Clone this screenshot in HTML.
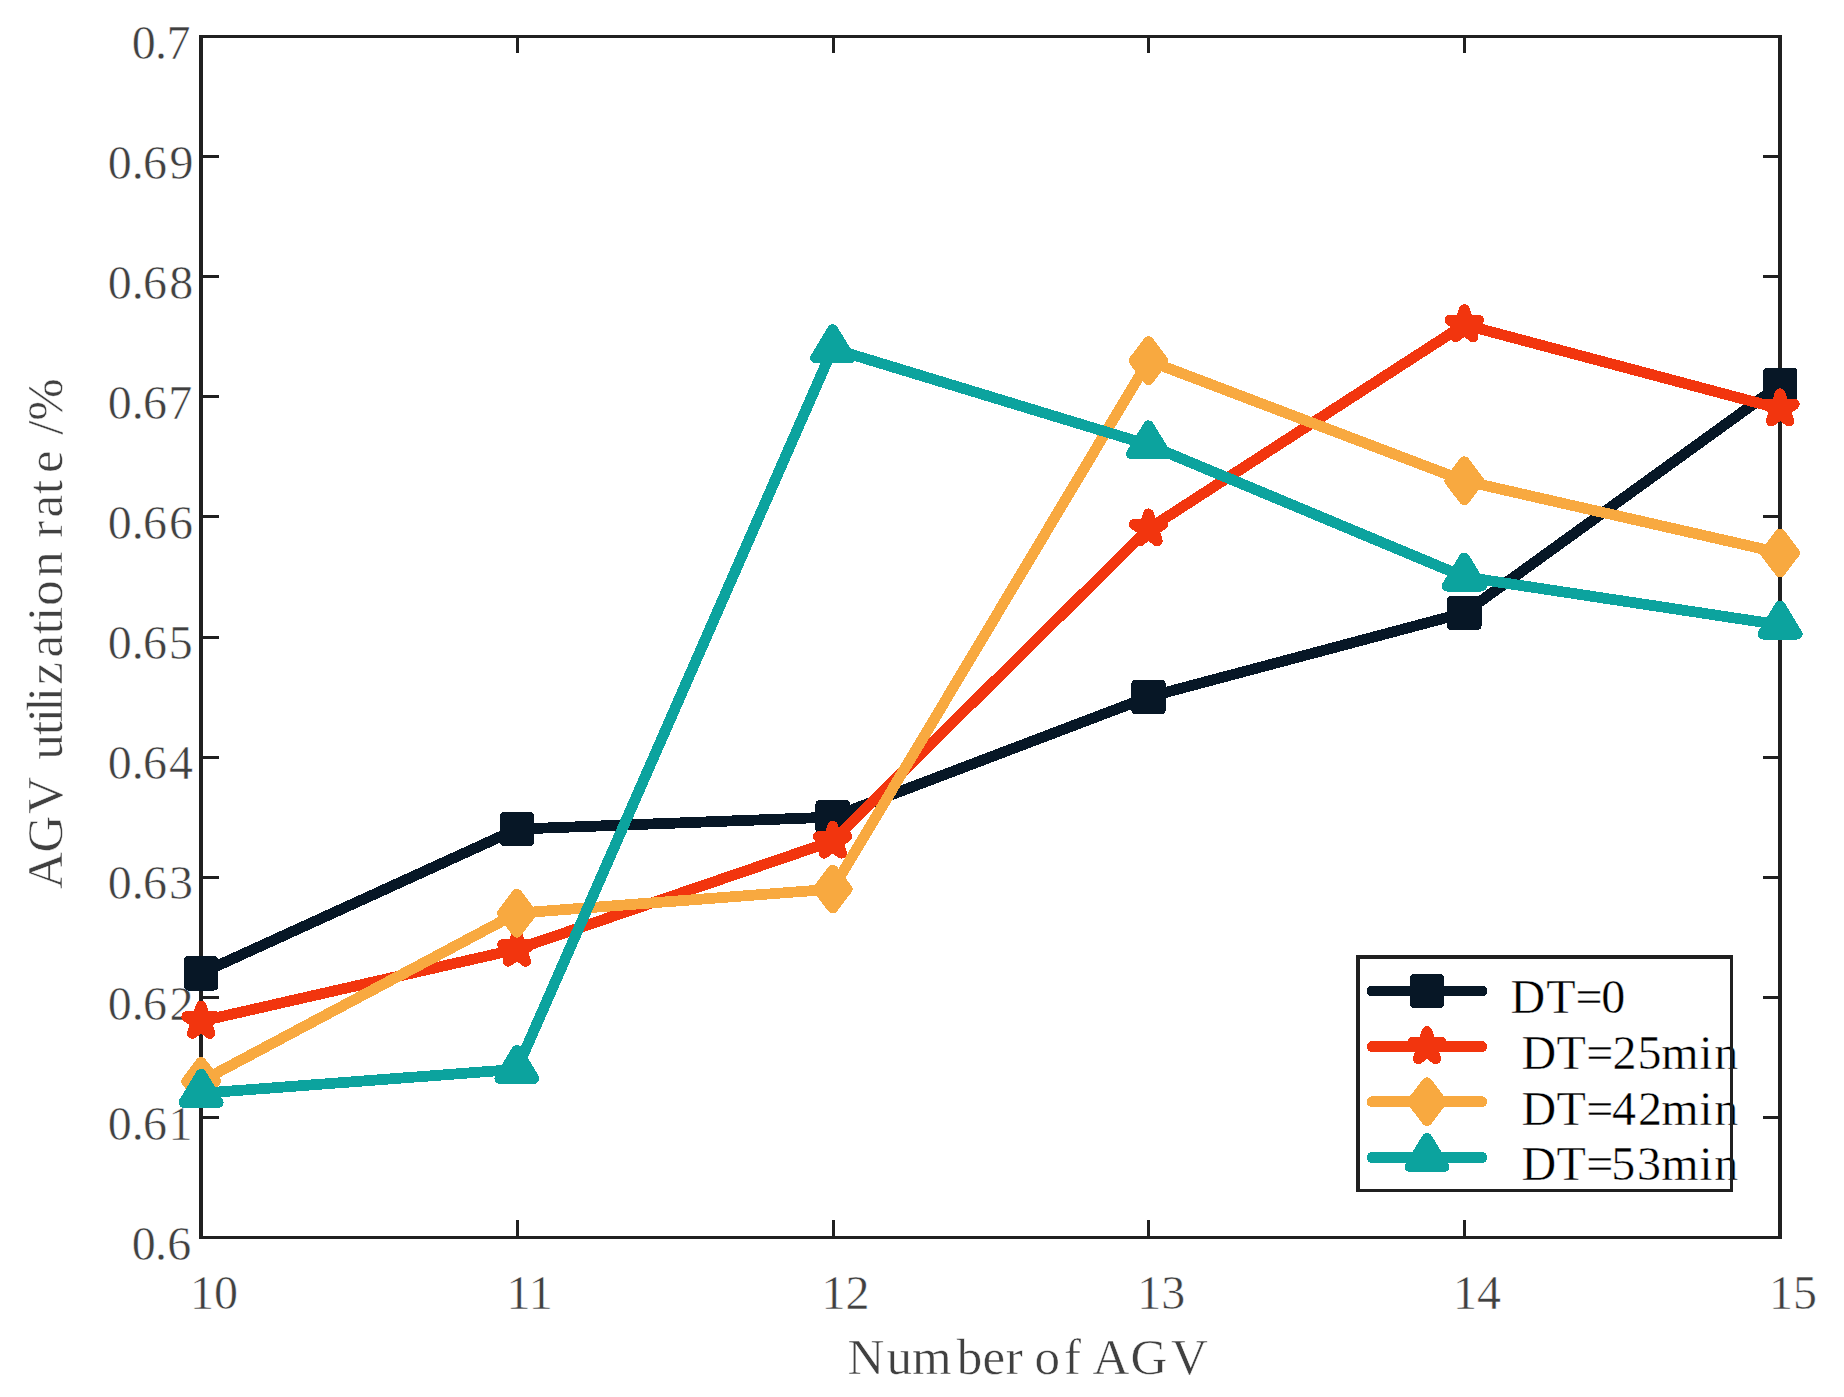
<!DOCTYPE html>
<html lang="en"><head><meta charset="utf-8"><title>AGV utilization rate</title>
<style>
html,body{margin:0;padding:0;background:#fff}
body{width:1844px;height:1397px;overflow:hidden}
svg{display:block}
text{font-family:"Liberation Serif",serif}
.tk{font-size:48px;fill:#404040;stroke:#fff;stroke-width:.5px}
.lb{font-size:51px;fill:#404040;stroke:#fff;stroke-width:.5px}
.lg{font-size:48px;fill:#000;stroke:#fff;stroke-width:.4px}
</style></head><body>
<svg width="1844" height="1397" viewBox="0 0 1844 1397">
<rect x="0" y="0" width="1844" height="1397" fill="#fff"/>
<g shape-rendering="crispEdges">
<path d="M201.1 36.5H218.7M1780.1 36.5H1763.2M201.1 156.6H218.7M1780.1 156.6H1763.2M201.1 276.7H218.7M1780.1 276.7H1763.2M201.1 396.8H218.7M1780.1 396.8H1763.2M201.1 516.9H218.7M1780.1 516.9H1763.2M201.1 637.0H218.7M1780.1 637.0H1763.2M201.1 757.0H218.7M1780.1 757.0H1763.2M201.1 877.1H218.7M1780.1 877.1H1763.2M201.1 997.2H218.7M1780.1 997.2H1763.2M201.1 1117.3H218.7M1780.1 1117.3H1763.2M201.1 1237.4H218.7M1780.1 1237.4H1763.2M201.5 1237.4V1220.4M201.5 36.5V53.0M517.3 1237.4V1220.4M517.3 36.5V53.0M833.1 1237.4V1220.4M833.1 36.5V53.0M1148.9 1237.4V1220.4M1148.9 36.5V53.0M1464.7 1237.4V1220.4M1464.7 36.5V53.0M1780.5 1237.4V1220.4M1780.5 36.5V53.0" stroke="#202020" stroke-width="3" fill="none"/>
<rect x="201.1" y="36.5" width="1579.0" height="1200.9" fill="none" stroke="#202020" stroke-width="3.6"/>
</g>
<g class="tk">
<text x="131.8 155 166.6" y="58.8">0.7</text>
<text x="107.7 131.8 143.1 169.4" y="178.9">0.69</text>
<text x="107.7 131.8 143.1 169.2" y="299.0">0.68</text>
<text x="107.7 131.8 143.1 168.3" y="419.1">0.67</text>
<text x="107.7 131.8 143.1 168.9" y="539.2">0.66</text>
<text x="107.7 131.8 143.1 168.7" y="659.2">0.65</text>
<text x="107.7 131.8 143.1 169.1" y="779.3">0.64</text>
<text x="107.7 131.8 143.1 169.0" y="899.4">0.63</text>
<text x="107.7 131.8 143.1 169.5" y="1019.5">0.62</text>
<text x="107.7 131.8 143.1 168.5" y="1139.6">0.61</text>
<text x="131.8 155 167.2" y="1259.7">0.6</text>
</g>
<g class="tk" text-anchor="middle">
<text x="213.9" y="1309">10</text>
<text x="529.7" y="1309">11</text>
<text x="845.5" y="1309">12</text>
<text x="1161.3" y="1309">13</text>
<text x="1477.1" y="1309">14</text>
<text x="1792.9" y="1309">15</text>
</g>
<text class="lb" x="847.4 886.4 911.9 956.7 982.4 1005.8 1022.8 1034.4 1064.0 1081.0 1092.5 1130.4 1171.0" y="1374.4">Number of AGV</text>
<text class="lb" transform="translate(62.0 1000) rotate(-90)" x="111.0 147.4 186.2 223.0 240.3 264.9 277.7 288.2 298.8 315.2 342.6 365.8 379.0 394.2 423.0 448.5 462.2 482.6 506.1 526.9 549.5 565.3 579.3" y="0">AGV utilization rate /%</text>
<g shape-rendering="crispEdges">
<polyline points="201.1,973.2 516.9,829.1 832.7,817.1 1148.5,697.0 1464.3,612.9 1780.1,384.8" fill="none" stroke="#071726" stroke-width="10.8" stroke-linejoin="round" stroke-linecap="butt"/>
<rect x="183.8" y="955.9" width="34.6" height="34.6" rx="4.5" fill="#071726"/>
<rect x="499.6" y="811.8" width="34.6" height="34.6" rx="4.5" fill="#071726"/>
<rect x="815.4" y="799.8" width="34.6" height="34.6" rx="4.5" fill="#071726"/>
<rect x="1131.2" y="679.7" width="34.6" height="34.6" rx="4.5" fill="#071726"/>
<rect x="1447.0" y="595.6" width="34.6" height="34.6" rx="4.5" fill="#071726"/>
<rect x="1762.8" y="367.5" width="34.6" height="34.6" rx="4.5" fill="#071726"/>
<polyline points="201.1,1021.2 516.9,949.2 832.7,841.1 1148.5,528.9 1464.3,324.7 1780.1,408.8" fill="none" stroke="#F2350E" stroke-width="10.8" stroke-linejoin="round" stroke-linecap="butt"/>
<polygon points="201.1,1006.2 204.5,1016.6 215.4,1016.6 206.5,1023.0 209.9,1033.4 201.1,1027.0 192.3,1033.4 195.7,1023.0 186.8,1016.6 197.7,1016.6" fill="#F2350E" stroke="#F2350E" stroke-width="10.8" stroke-linejoin="round"/>
<polygon points="516.9,934.2 520.3,944.5 531.2,944.5 522.3,951.0 525.7,961.3 516.9,954.9 508.1,961.3 511.5,951.0 502.6,944.5 513.5,944.5" fill="#F2350E" stroke="#F2350E" stroke-width="10.8" stroke-linejoin="round"/>
<polygon points="832.7,826.1 836.1,836.5 847.0,836.5 838.1,842.9 841.5,853.2 832.7,846.8 823.9,853.2 827.3,842.9 818.4,836.5 829.3,836.5" fill="#F2350E" stroke="#F2350E" stroke-width="10.8" stroke-linejoin="round"/>
<polygon points="1148.5,513.9 1151.9,524.2 1162.8,524.2 1153.9,530.6 1157.3,541.0 1148.5,534.6 1139.7,541.0 1143.1,530.6 1134.2,524.2 1145.1,524.2" fill="#F2350E" stroke="#F2350E" stroke-width="10.8" stroke-linejoin="round"/>
<polygon points="1464.3,309.7 1467.7,320.1 1478.6,320.1 1469.7,326.5 1473.1,336.9 1464.3,330.4 1455.5,336.9 1458.9,326.5 1450.0,320.1 1460.9,320.1" fill="#F2350E" stroke="#F2350E" stroke-width="10.8" stroke-linejoin="round"/>
<polygon points="1780.1,393.8 1783.5,404.1 1794.4,404.1 1785.5,410.5 1788.9,420.9 1780.1,414.5 1771.3,420.9 1774.7,410.5 1765.8,404.1 1776.7,404.1" fill="#F2350E" stroke="#F2350E" stroke-width="10.8" stroke-linejoin="round"/>
<polyline points="201.1,1081.3 516.9,913.2 832.7,889.1 1148.5,360.7 1464.3,480.8 1780.1,552.9" fill="none" stroke="#F8A940" stroke-width="10.8" stroke-linejoin="round" stroke-linecap="butt"/>
<polygon points="201.1,1062.3 215.5,1081.3 201.1,1100.3 186.7,1081.3" fill="#F8A940" stroke="#F8A940" stroke-width="10.8" stroke-linejoin="round"/>
<polygon points="516.9,894.2 531.3,913.2 516.9,932.2 502.5,913.2" fill="#F8A940" stroke="#F8A940" stroke-width="10.8" stroke-linejoin="round"/>
<polygon points="832.7,870.1 847.1,889.1 832.7,908.1 818.3,889.1" fill="#F8A940" stroke="#F8A940" stroke-width="10.8" stroke-linejoin="round"/>
<polygon points="1148.5,341.7 1162.9,360.7 1148.5,379.7 1134.1,360.7" fill="#F8A940" stroke="#F8A940" stroke-width="10.8" stroke-linejoin="round"/>
<polygon points="1464.3,461.8 1478.7,480.8 1464.3,499.8 1449.9,480.8" fill="#F8A940" stroke="#F8A940" stroke-width="10.8" stroke-linejoin="round"/>
<polygon points="1780.1,533.9 1794.5,552.9 1780.1,571.9 1765.7,552.9" fill="#F8A940" stroke="#F8A940" stroke-width="10.8" stroke-linejoin="round"/>
<polyline points="201.1,1093.3 516.9,1069.3 832.7,348.7 1148.5,444.8 1464.3,576.9 1780.1,624.9" fill="none" stroke="#0CA39E" stroke-width="10.8" stroke-linejoin="round" stroke-linecap="butt"/>
<polygon points="201.1,1074.3 218.2,1102.5 184.0,1102.5" fill="#0CA39E" stroke="#0CA39E" stroke-width="10.8" stroke-linejoin="round"/>
<polygon points="516.9,1050.3 534.0,1078.5 499.8,1078.5" fill="#0CA39E" stroke="#0CA39E" stroke-width="10.8" stroke-linejoin="round"/>
<polygon points="832.7,329.7 849.8,357.9 815.6,357.9" fill="#0CA39E" stroke="#0CA39E" stroke-width="10.8" stroke-linejoin="round"/>
<polygon points="1148.5,425.8 1165.6,454.0 1131.4,454.0" fill="#0CA39E" stroke="#0CA39E" stroke-width="10.8" stroke-linejoin="round"/>
<polygon points="1464.3,557.9 1481.4,586.1 1447.2,586.1" fill="#0CA39E" stroke="#0CA39E" stroke-width="10.8" stroke-linejoin="round"/>
<polygon points="1780.1,605.9 1797.2,634.1 1763.0,634.1" fill="#0CA39E" stroke="#0CA39E" stroke-width="10.8" stroke-linejoin="round"/>
</g>
<g shape-rendering="crispEdges">
<rect x="1358" y="957" width="373.7" height="233.3" fill="#fff" stroke="none"/>
<line x1="1372" y1="991.0" x2="1482" y2="991.0" stroke="#071726" stroke-width="10.8" stroke-linecap="round"/>
<rect x="1409.7" y="973.7" width="34.6" height="34.6" rx="4.5" fill="#071726"/>
<line x1="1372" y1="1046.6" x2="1482" y2="1046.6" stroke="#F2350E" stroke-width="10.8" stroke-linecap="round"/>
<polygon points="1427.0,1031.6 1430.4,1042.0 1441.3,1042.0 1432.4,1048.4 1435.8,1058.7 1427.0,1052.3 1418.2,1058.7 1421.6,1048.4 1412.7,1042.0 1423.6,1042.0" fill="#F2350E" stroke="#F2350E" stroke-width="10.8" stroke-linejoin="round"/>
<line x1="1372" y1="1101.7" x2="1482" y2="1101.7" stroke="#F8A940" stroke-width="10.8" stroke-linecap="round"/>
<polygon points="1427.0,1082.7 1441.4,1101.7 1427.0,1120.7 1412.6,1101.7" fill="#F8A940" stroke="#F8A940" stroke-width="10.8" stroke-linejoin="round"/>
<line x1="1372" y1="1157.5" x2="1482" y2="1157.5" stroke="#0CA39E" stroke-width="10.8" stroke-linecap="round"/>
<polygon points="1427.0,1138.5 1444.1,1166.7 1409.9,1166.7" fill="#0CA39E" stroke="#0CA39E" stroke-width="10.8" stroke-linejoin="round"/>
</g>
<text class="lg" x="1510.6 1546.3 1575.5 1601.3" y="1012.5">DT=0</text>
<text class="lg" x="1521.5 1556.6 1586.2 1612.5 1637.5 1661.2 1699.2 1714.3" y="1068.8">DT=25min</text>
<text class="lg" x="1521.5 1556.6 1586.2 1611.9 1637.9 1661.2 1699.2 1714.3" y="1124.6">DT=42min</text>
<text class="lg" x="1521.5 1556.6 1586.2 1611.2 1637.0 1661.2 1699.2 1714.3" y="1180.2">DT=53min</text>
<rect x="1358" y="957" width="373.7" height="233.3" fill="none" stroke="#202020" stroke-width="3.6" shape-rendering="crispEdges"/>
</svg></body></html>
